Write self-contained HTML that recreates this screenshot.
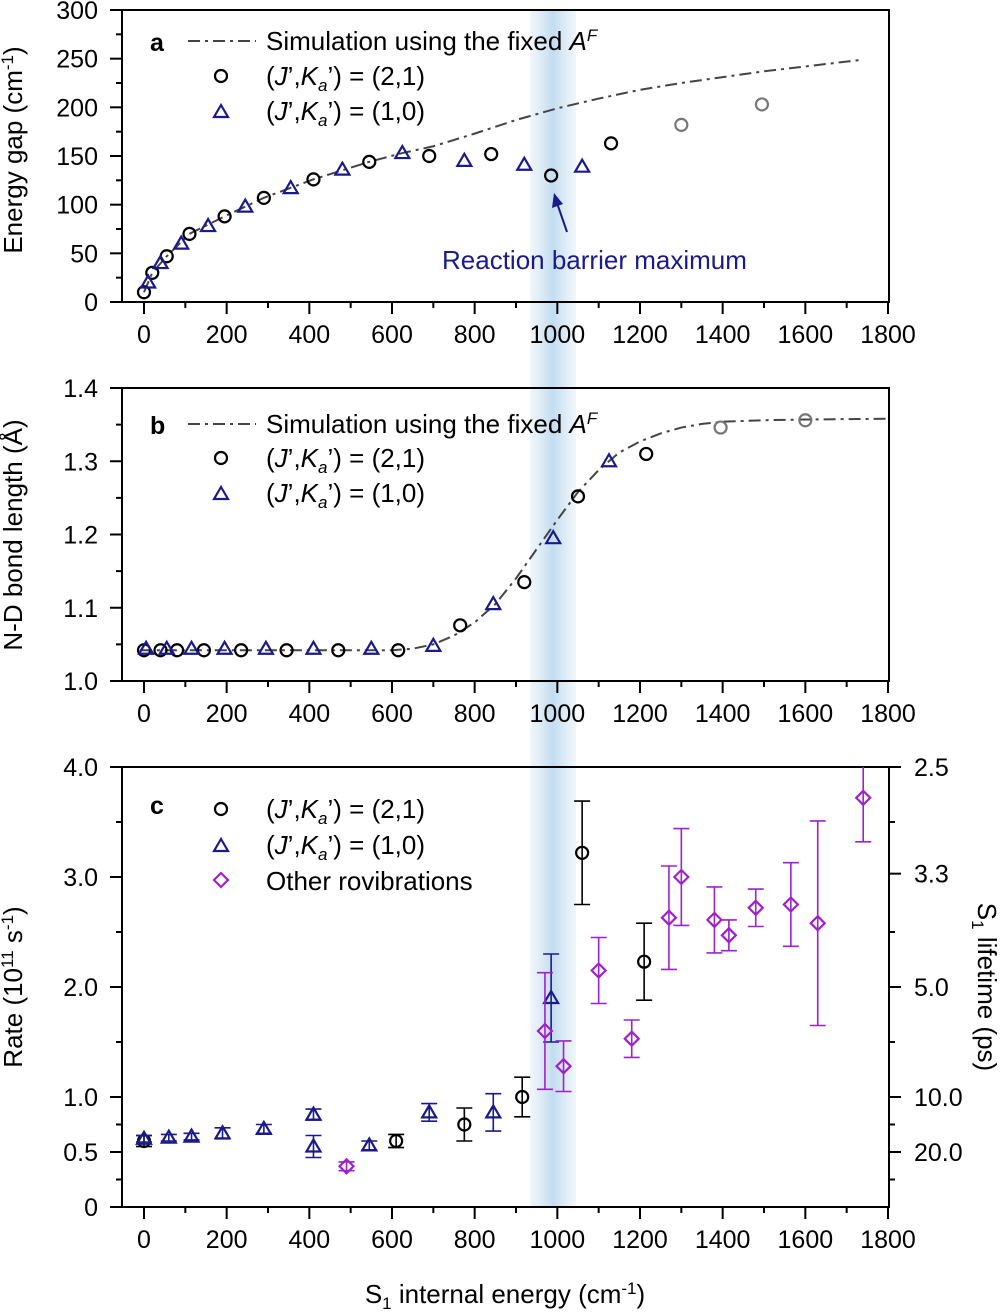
<!DOCTYPE html>
<html><head><meta charset="utf-8"><style>
html,body{margin:0;padding:0;background:#fff}
svg text{font-family:"Liberation Sans",sans-serif;fill:#000}
</style></head><body>
<svg id="chart" width="1000" height="1309" viewBox="0 0 1000 1309" xmlns="http://www.w3.org/2000/svg">
<defs><linearGradient id="band" x1="0" x2="1" y1="0" y2="0">
<stop offset="0" stop-color="#cfe3f3" stop-opacity="0.3"/><stop offset="0.5" stop-color="#c3dcf0"/><stop offset="1" stop-color="#cfe3f3" stop-opacity="0.3"/></linearGradient>
<clipPath id="clipc"><rect x="100" y="767" width="800" height="450"/></clipPath></defs>
</svg>
<script>
// ---- data ----
const aCircX=[0,20,55,110,195,290,410,545,690,840,985,1130];
const aCircY=[10,30,47,70,88,107,126,144,150,152,130,163];
const aGreyX=[1300,1495];
const aGreyY=[182,203];
const aTriX=[10,40,90,155,245,355,480,625,775,920,1060];
const aTriY=[20,40,60,78,98,117,136,153,145,141,139];
const aSimX=[0,20,55,110,195,290,410,545,625,700,800,900,1000,1100,1200,1300,1400,1500,1600,1740];
const aSimY=[10,30,47,70,88,107,126,144,153,160,173,187,199,209,218,225,231,237,242,249];
const bCircX=[0,40,80,145,235,345,470,615,765,920,1050,1215];
const bCircY=[1.042,1.042,1.042,1.042,1.042,1.042,1.042,1.042,1.076,1.135,1.252,1.31];
const bGreyX=[1395,1600];
const bGreyY=[1.346,1.356];
const bTriX=[5,55,115,195,295,410,550,700,845,990,1125];
const bTriY=[1.044,1.044,1.044,1.044,1.044,1.044,1.044,1.048,1.105,1.195,1.30];
const bSimX=[-10,600,650,700,750,800,850,900,950,1000,1050,1100,1150,1200,1250,1300,1350,1400,1500,1600,1800];
const bSimY=[1.042,1.042,1.044,1.05,1.062,1.08,1.105,1.14,1.18,1.22,1.258,1.288,1.312,1.327,1.338,1.346,1.351,1.354,1.356,1.357,1.358];
const cCircX=[0,610,775,915,1060,1210];
const cCircY=[0.6,0.6,0.75,1.0,3.22,2.23];
const cCircE=[0.05,0.06,0.15,0.18,0.47,0.35];
const cTriX=[0,60,115,190,290,410,410,545,690,845,985];
const cTriY=[0.62,0.63,0.64,0.67,0.71,0.84,0.55,0.56,0.86,0.86,1.9];
const cTriE=[0.03,0.03,0.03,0.05,0.04,0.05,0.1,0.04,0.08,0.17,0.4];
const cDiaX=[490,970,1015,1100,1180,1270,1300,1380,1415,1480,1565,1630,1740];
const cDiaY=[0.37,1.6,1.28,2.15,1.53,2.63,3.0,2.61,2.47,2.72,2.75,2.58,3.72];
const cDiaE=[0.04,0.53,0.23,0.3,0.17,0.47,0.44,0.3,0.14,0.17,0.38,0.93,0.4];
const xTicks=[0,200,400,600,800,1000,1200,1400,1600,1800];
const aYTicks=[0,50,100,150,200,250,300];
const bYTicks=[1.0,1.1,1.2,1.3,1.4];
const cYTicks=[0,0.5,1.0,2.0,3.0,4.0];
const cYLabels=["0","0.5","1.0","2.0","3.0","4.0"];
const rTicks=[2.5,3.3,5.0,10.0,20.0];

const svg=document.getElementById('chart');
const NS='http://www.w3.org/2000/svg';
function el(t,a,p){const e=document.createElementNS(NS,t);for(const k in a)e.setAttribute(k,a[k]);(p||svg).appendChild(e);return e;}
const L=122,R=889,FS=26,TS=25;
const X=v=>144+v*(888-144)/1800;
const Ya=v=>302-v*(292/300);
const Yb=v=>681-(v-1.0)*(293/0.4);
const Yc=v=>1207-v*110;

const band=el('rect',{x:530,y:10,width:46,height:1198,fill:'url(#band)'});



function txt(x,y,s,o){const t=el('text',Object.assign({x:x,y:y,'font-size':FS},o||{}));t.innerHTML=s;return t;}
function frame(top,bot,name){
  const g=el('g',{});
  
  
  el('rect',{x:L,y:top,width:R-L,height:bot-top,fill:'none',stroke:'#000','stroke-width':2},g);
  xTicks.forEach(v=>{el('line',{x1:X(v),x2:X(v),y1:bot,y2:bot+12,stroke:'#000','stroke-width':2},g);
    const t=txt(X(v),bot+41,String(v),{'text-anchor':'middle','font-size':TS});});
  for(let v=100;v<1800;v+=200)el('line',{x1:X(v),x2:X(v),y1:bot,y2:bot+6,stroke:'#000','stroke-width':2},g);
}
function yTicks(ticks,labels,Y,minor){
  ticks.forEach((v,i)=>{el('line',{x1:L-12,x2:L,y1:Y(v),y2:Y(v),stroke:'#000','stroke-width':2});
    const t=txt(L-24,Y(v)+9,labels[i],{'text-anchor':'end','font-size':TS});});
  minor.forEach(v=>el('line',{x1:L-6,x2:L,y1:Y(v),y2:Y(v),stroke:'#000','stroke-width':2}));
}
function circ(x,y,col,name){const c=el('circle',{cx:x,cy:y,r:6,fill:'none',stroke:col,'stroke-width':2.2});return c;}
function tri(x,y,col,name){const p=el('polygon',{points:`${x},${y-7} ${x+7},${y+5} ${x-7},${y+5}`,fill:'none',stroke:col,'stroke-width':2.2});return p;}
function dia(x,y,col,name){const p=el('polygon',{points:`${x},${y-7} ${x+7},${y} ${x},${y+7} ${x-7},${y}`,fill:'none',stroke:col,'stroke-width':2.2});return p;}
function err(x,y,e,col){const g=el('g',{'clip-path':'url(#clipc)'});
  el('line',{x1:X(x),x2:X(x),y1:Yc(y+e),y2:Yc(y-e),stroke:col,'stroke-width':1.6},g);
  el('line',{x1:X(x)-8,x2:X(x)+8,y1:Yc(y+e),y2:Yc(y+e),stroke:col,'stroke-width':1.6},g);
  el('line',{x1:X(x)-8,x2:X(x)+8,y1:Yc(y-e),y2:Yc(y-e),stroke:col,'stroke-width':1.6},g);}
const JK='(<tspan font-style="italic">J</tspan>’,<tspan font-style="italic">K</tspan><tspan font-style="italic" font-size="17" dy="6">a</tspan><tspan dy="-6">’) = </tspan>';
const NAVY='#1a1a8c',GREY='#777',PUR='#a020d0';
const DASH='12,5,3,5';

// ---- panel a ----
frame(10,302,'panel-a');
yTicks(aYTicks,aYTicks.map(String),Ya,[25,75,125,175,225,275]);
let d=aSimX.map((v,i)=>(i?'L':'M')+X(v)+','+Ya(aSimY[i])).join(' ');
let p=el('path',{d:d,fill:'none',stroke:'#444','stroke-width':2,'stroke-dasharray':DASH});

aCircX.forEach((v,i)=>circ(X(v),Ya(aCircY[i]),'#000','point-21-a'));
aGreyX.forEach((v,i)=>circ(X(v),Ya(aGreyY[i]),GREY,'point-grey-a'));
aTriX.forEach((v,i)=>tri(X(v),Ya(aTriY[i]),NAVY,'point-10-a'));
txt(150,51,'a',{'font-weight':'bold','font-size':25});
el('line',{x1:188,x2:256,y1:41,y2:41,stroke:'#444','stroke-width':2,'stroke-dasharray':DASH});
txt(266,50,'Simulation using the fixed <tspan font-style="italic">A</tspan><tspan font-style="italic" font-size="17" dy="-9">F</tspan>');
circ(221,76,'#000','legend-marker-21-a');txt(266,85,JK+'(2,1)');
tri(221,112,NAVY,'legend-marker-10-a');txt(266,120,JK+'(1,0)');
txt(442,269,'Reaction barrier maximum',{style:'fill:#1a1a8c'});
el('line',{x1:567,x2:557,y1:232,y2:203,stroke:NAVY,'stroke-width':2});
el('polygon',{points:'554,193 552,208 563,204',fill:NAVY});
let t=txt(22,150,'Energy gap (cm<tspan font-size="17" dy="-9">-1</tspan><tspan dy="9">)</tspan>',{transform:'rotate(-90 22 150)','text-anchor':'middle'});


// ---- panel b ----
frame(388,681,'panel-b');
yTicks(bYTicks,bYTicks.map(v=>v.toFixed(1)),Yb,[1.05,1.15,1.25,1.35]);
d=bSimX.map((v,i)=>(i?'L':'M')+X(v)+','+Yb(bSimY[i])).join(' ');
p=el('path',{d:d,fill:'none',stroke:'#444','stroke-width':2,'stroke-dasharray':DASH});

bCircX.forEach((v,i)=>circ(X(v),Yb(bCircY[i]),'#000','point-21-b'));
bGreyX.forEach((v,i)=>circ(X(v),Yb(bGreyY[i]),GREY,'point-grey-b'));
bTriX.forEach((v,i)=>tri(X(v),Yb(bTriY[i]),NAVY,'point-10-b'));
txt(150,434,'b',{'font-weight':'bold','font-size':25});
el('line',{x1:188,x2:256,y1:424,y2:424,stroke:'#444','stroke-width':2,'stroke-dasharray':DASH});
txt(266,433,'Simulation using the fixed <tspan font-style="italic">A</tspan><tspan font-style="italic" font-size="17" dy="-9">F</tspan>');
circ(221,458,'#000','legend-marker-21-b');txt(266,467,JK+'(2,1)');
tri(221,494,NAVY,'legend-marker-10-b');txt(266,502,JK+'(1,0)');
t=txt(22,535,'N-D bond length (Å)',{transform:'rotate(-90 22 535)','text-anchor':'middle'});


// ---- panel c ----
frame(767,1207,'panel-c');
yTicks(cYTicks,cYLabels,Yc,[0.25,0.75,1.5,2.5,3.5]);
rTicks.forEach(v=>{const y=Yc(10/v);el('line',{x1:R,x2:R+12,y1:y,y2:y,stroke:'#000','stroke-width':2});
  const tt=txt(R+25,y+9,v.toFixed(1),{'font-size':TS});});
[0.25,0.75,1.5,2.5,3.5].forEach(v=>el('line',{x1:R,x2:R+6,y1:Yc(v),y2:Yc(v),stroke:'#000','stroke-width':2}));
cCircX.forEach((v,i)=>{err(v,cCircY[i],cCircE[i],'#000');circ(X(v),Yc(cCircY[i]),'#000','point-21-c');});
cTriX.forEach((v,i)=>{err(v,cTriY[i],cTriE[i],NAVY);tri(X(v),Yc(cTriY[i]),NAVY,'point-10-c');});
cDiaX.forEach((v,i)=>{err(v,cDiaY[i],cDiaE[i],PUR);dia(X(v),Yc(cDiaY[i]),PUR,'point-other-c');});
txt(150,814,'c',{'font-weight':'bold','font-size':25});
circ(221,809,'#000','legend-marker-21-c');txt(266,818,JK+'(2,1)');
tri(221,846,NAVY,'legend-marker-10-c');txt(266,854,JK+'(1,0)');
dia(221,880,PUR,'legend-marker-other-c');txt(266,890,'Other rovibrations');
t=txt(22,987,'Rate (10<tspan font-size="17" dy="-9">11</tspan><tspan dy="9"> s</tspan><tspan font-size="17" dy="-9">-1</tspan><tspan dy="9">)</tspan>',{transform:'rotate(-90 22 987)','text-anchor':'middle'});

t=txt(978,987,'S<tspan font-size="17" dy="6">1</tspan><tspan dy="-6"> lifetime (ps)</tspan>',{transform:'rotate(90 978 987)','text-anchor':'middle'});

t=txt(505,1303,'S<tspan font-size="17" dy="6">1</tspan><tspan dy="-6"> internal energy (cm</tspan><tspan font-size="17" dy="-9">-1</tspan><tspan dy="9">)</tspan>',{'text-anchor':'middle'});

</script>
</body></html>
